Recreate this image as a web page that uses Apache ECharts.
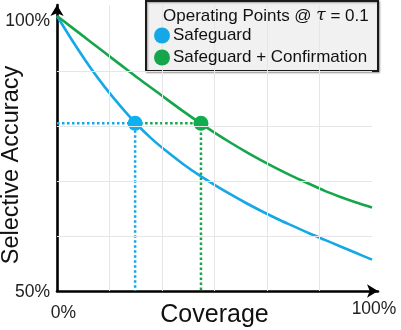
<!DOCTYPE html>
<html><head><meta charset="utf-8">
<script src="https://cdn.jsdelivr.net/npm/echarts@6/dist/echarts.min.js"></script>
<style>html,body{margin:0;padding:0;background:#fff}#c{width:401px;height:330px}</style>
</head><body><div id="c"></div>
<script>
const coverage = [0, 5, 10, 15, 20, 25, 30, 35, 40, 45, 50, 55, 60, 65, 70, 75, 80, 85, 90, 95, 100];
const safeguard = [100, 95.4, 91.1, 87.2, 83.7, 80.5, 77.7, 75.3, 73.1, 71.1, 69.3, 67.6, 66.0, 64.5, 63.1, 61.8, 60.5, 59.3, 58.1, 56.9, 55.7];
const safeguardConfirm = [100, 97.8, 95.6, 93.4, 91.2, 89.0, 86.9, 84.8, 82.7, 80.7, 78.8, 77.0, 75.3, 73.7, 72.2, 70.8, 69.5, 68.2, 67.1, 66.1, 65.2];
const opSafeguard = [24.8, 80.5];
const opConfirm = [45.7, 80.5];
const seriesNames = ['Safeguard', 'Safeguard + Confirmation'];
const xLabelTicks = [0, 100];
const yLabelTicks = [50, 100];
const xGridValues = [100 / 6, 200 / 6, 300 / 6, 400 / 6, 500 / 6];
const yGridValues = [60, 70, 80, 90];
const xTitle = 'Coverage';
const yTitle = 'Selective Accuracy';
const legendTitle = ['Operating Points @ ', 'τ', ' = 0.1'];

const FONT = "'Liberation Sans', Arial, Helvetica, sans-serif";
const BLUE = '#14a8e6';
const GREEN = '#15a54b';
const X_MIN = 0, X_MAX = 101.9, Y_MIN = 50, Y_MAX = 102;

const chart = echarts.init(document.getElementById('c'), null, {renderer: 'canvas'});

const gridLines = [];
xGridValues.forEach(v => gridLines.push([{coord: [v, Y_MIN]}, {coord: [v, Y_MAX]}]));
yGridValues.forEach(v => gridLines.push([{coord: [X_MIN, v]}, {coord: [100, v]}]));

const option = {
  animation: false,
  backgroundColor: '#fff',
  textStyle: {fontFamily: FONT},
  grid: {left: 57, right: 23, top: 5, bottom: 39, containLabel: false, outerBoundsMode: 'none'},
  xAxis: {
    type: 'value', min: X_MIN, max: X_MAX, interval: 50,
    name: xTitle, nameLocation: 'middle', nameGap: 12, nameMoveOverlap: false,
    nameTextStyle: {fontSize: 25, color: '#111', fontFamily: FONT, verticalAlign: 'top', padding: [0, 6, 0, 0]},
    axisLine: {show: true, lineStyle: {color: '#000', width: 2.6}, symbol: ['none', 'arrow'], symbolSize: [10, 11]},
    axisTick: {show: false},
    splitLine: {show: false},
    axisLabel: {
      margin: 7, fontSize: 17.5, color: '#222', fontFamily: FONT,
      formatter: v => {
        if (Math.abs(v - xLabelTicks[0]) < 0.01) return '{a|' + xLabelTicks[0] + '%}';
        if (Math.abs(v - xLabelTicks[1]) < 0.01) return '{b|' + xLabelTicks[1] + '%}';
        return '';
      },
      rich: {
        a: {fontSize: 17.5, color: '#222', fontFamily: FONT, padding: [6, 0, 0, 13]},
        b: {fontSize: 17.5, color: '#222', fontFamily: FONT, padding: [2, 0, 0, 4]}
      }
    }
  },
  yAxis: {
    type: 'value', min: Y_MIN, max: Y_MAX, interval: 50,
    name: yTitle, nameLocation: 'middle', nameGap: 33, nameMoveOverlap: false,
    nameTextStyle: {fontSize: 23.5, color: '#111', fontFamily: FONT, padding: [0, 34, 0, 0]},
    axisLine: {show: true, lineStyle: {color: '#000', width: 2.6}, symbol: ['none', 'arrow'], symbolSize: [10, 11]},
    axisTick: {show: false},
    splitLine: {show: false},
    axisLabel: {
      margin: 7, fontSize: 17.5, color: '#222', fontFamily: FONT,
      formatter: v => {
        if (Math.abs(v - yLabelTicks[0]) < 0.01) return '{a|' + yLabelTicks[0] + '%}';
        if (Math.abs(v - yLabelTicks[1]) < 0.01) return '{b|' + yLabelTicks[1] + '%}';
        return '';
      },
      rich: {
        a: {fontSize: 17.5, color: '#222', fontFamily: FONT, padding: [3, 0, 0, 0]},
        b: {fontSize: 17.5, color: '#222', fontFamily: FONT, padding: [11, 0, 0, 0]}
      }
    }
  },
  legend: {
    show: true, data: seriesNames, orient: 'vertical', left: 154, top: 27,
    itemWidth: 16, itemHeight: 16, itemGap: 5, icon: 'circle', selectedMode: false,
    padding: 0, z: 6,
    textStyle: {fontSize: 17, color: '#111', fontFamily: FONT, padding: [0, 0, 0, -2]}
  },
  graphic: [
    {type: 'rect', z: 5, shape: {x: 146, y: 1, width: 232, height: 70},
     style: {fill: '#f1f1f1', stroke: '#1a1a1a', lineWidth: 2, shadowBlur: 2, shadowColor: 'rgba(0,0,0,0.35)', shadowOffsetX: 1, shadowOffsetY: 1}},
    {type: 'text', z: 7, x: 163, y: 16,
     style: {
       text: '{r|' + legendTitle[0] + '}{i|' + legendTitle[1] + '}{r|' + legendTitle[2] + '}',
       verticalAlign: 'middle', fill: '#111',
       rich: {
         r: {fontSize: 17, fontFamily: FONT, fill: '#111'},
         i: {fontSize: 17, fontFamily: "'DejaVu Serif', 'Liberation Serif', serif", fontStyle: 'italic', fill: '#111'}
       }
     }}
  ],
  series: [
    {type: 'line', name: 'grid', data: [], z: 1, silent: true,
     markLine: {silent: true, symbol: 'none', label: {show: false}, animation: false,
       lineStyle: {color: '#e6e6e6', width: 1, type: 'solid'}, emphasis: {disabled: true},
       data: gridLines}},
    {type: 'line', name: 'sg-guide', z: 2, showSymbol: false, silent: true,
     data: [[X_MIN, opSafeguard[1]], opSafeguard, [opSafeguard[0], Y_MIN]],
     lineStyle: {color: BLUE, width: 2.5, type: 'dotted'}},
    {type: 'line', name: 'sgc-guide', z: 2, showSymbol: false, silent: true,
     data: [opSafeguard, opConfirm, [opConfirm[0], Y_MIN]],
     lineStyle: {color: GREEN, width: 2.5, type: 'dotted'}},
    {type: 'line', name: seriesNames[0], z: 3, showSymbol: false, smooth: 0.25,
     data: coverage.map((c, i) => [c, safeguard[i]]),
     itemStyle: {color: BLUE}, lineStyle: {color: BLUE, width: 2.6}},
    {type: 'line', name: seriesNames[1], z: 3, showSymbol: false, smooth: 0.25,
     data: coverage.map((c, i) => [c, safeguardConfirm[i]]),
     itemStyle: {color: GREEN}, lineStyle: {color: GREEN, width: 2.6}},
    {type: 'scatter', name: seriesNames[0], z: 4, symbolSize: 15, data: [opSafeguard], itemStyle: {color: '#0db0f0', opacity: 1}},
    {type: 'scatter', name: seriesNames[1], z: 4, symbolSize: 15, data: [opConfirm], itemStyle: {color: '#0fad4d', opacity: 1}}
  ]
};
chart.setOption(option);
</script>
</body></html>
